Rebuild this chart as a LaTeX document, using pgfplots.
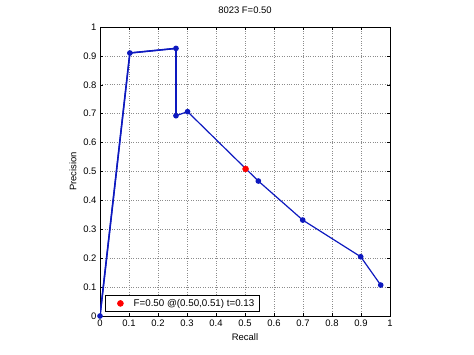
\documentclass[border=0pt]{standalone}
\usepackage{pgfplots}
\pgfplotsset{compat=1.18}
\usepackage{fontspec}
\setmainfont{Liberation Sans}
\definecolor{mblue}{rgb}{0.05,0.1,0.75}
\begin{document}
\begin{tikzpicture}[x=1bp,y=1bp]
\begin{axis}[
  scale only axis, width=290bp, height=289bp,
  xmin=0, xmax=1, ymin=0, ymax=1,
  xtick={0,0.1,...,1}, ytick={0,0.1,...,1},
  xticklabels={0,0.1,0.2,0.3,0.4,0.5,0.6,0.7,0.8,0.9,1},
  yticklabels={0,0.1,0.2,0.3,0.4,0.5,0.6,0.7,0.8,0.9,1},
  tick align=inside, tick style={black, line width=0.4pt}, major tick length=3bp,
  grid=major, grid style={dotted, gray!90, line width=0.6pt},
  axis line style={black, line width=0.5pt},
  tick label style={font=\fontsize{9.5}{11}\selectfont},
  label style={font=\fontsize{9.5}{11}\selectfont},
  title style={font=\fontsize{9.5}{11}\selectfont, yshift=4bp},
  title={8023 F=0.50},
  xlabel={Recall}, ylabel={Precision},
  xlabel style={yshift=-1bp}, ylabel style={yshift=0bp},
  xtick pos=both, ytick pos=both,
  legend style={at={(0.017,0.014)}, anchor=south west, draw=black, line width=0.5pt,
    font=\fontsize{9.8}{11}\selectfont, inner xsep=3bp, inner ysep=2bp, legend cell align=left},
  legend image code/.code={\path (0,0); \fill[red] (12bp,0) circle (3bp);},
]
\addplot[mblue, line width=1.6pt, forget plot] coordinates {(0,0) (0.103,0.91) (0.262,0.926) (0.262,0.693)};
\addplot[mblue, line width=1.2pt, mark=*, mark size=2.2bp, forget plot] coordinates {
(0,0) (0.103,0.91) (0.262,0.926) (0.262,0.693) (0.302,0.707) (0.546,0.467) (0.699,0.332) (0.899,0.205) (0.968,0.107)};
\addplot[only marks, mark=*, red, mark size=3bp] coordinates {(0.502,0.509)};
\addlegendentry{\hspace{8bp}F=0.50 @(0.50,0.51) t=0.13}
\end{axis}
\pgfresetboundingbox
\path[use as bounding box] (current axis.south west) ++(-100bp,-39bp) rectangle ++(474bp,355bp);
\end{tikzpicture}
\end{document}
